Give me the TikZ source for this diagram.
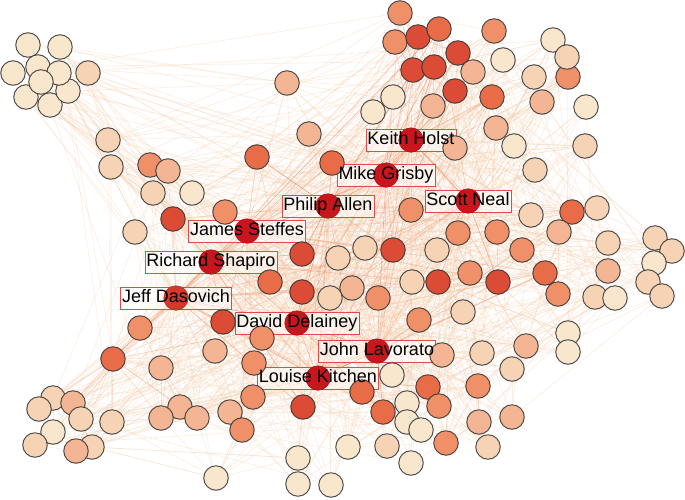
\documentclass[tikz,border=0pt]{standalone}
\usepackage{fontspec}
\setmainfont{Liberation Sans}
\pgfdeclarelayer{bg}
\pgfdeclarelayer{boxl}
\pgfdeclarelayer{fg}
\pgfsetlayers{bg,boxl,main,fg}
\definecolor{lv0}{HTML}{F8E6CD}
\definecolor{lv1}{HTML}{F6D3B4}
\definecolor{lv2}{HTML}{F3B593}
\definecolor{lv3}{HTML}{EF9068}
\definecolor{lv4}{HTML}{E76C47}
\definecolor{lv5}{HTML}{DC4B35}
\definecolor{hubc}{HTML}{C8161C}
\definecolor{hubj}{HTML}{D53A28}
\definecolor{edgec}{HTML}{F4CEAE}
\definecolor{redgec}{HTML}{E8673F}
\definecolor{medgec}{HTML}{EE9A72}
\definecolor{boxc}{HTML}{E04A4A}
\makeatletter
\newcommand\mydist[2]{%
  \pgfpointdiff{\pgfpointanchor{#1}{center}}{\pgfpointanchor{#2}{center}}%
  \edef\mytmpx{\the\pgf@x}\edef\mytmpy{\the\pgf@y}%
  \pgfmathparse{veclen(\mytmpx,\mytmpy)}%
  \global\let\mydistval\pgfmathresult}
\makeatother
\tikzset{
  vert/.style={circle, draw=black!80, line width=1pt, draw opacity=.85, minimum size=24.5pt, inner sep=0pt},
  hub/.style={circle, draw=#1!85!black, line width=.6pt, fill=#1, minimum size=24.5pt, inner sep=0pt},
  edge/.style={draw=edgec, opacity=.32, line width=.7pt},
  redge/.style={draw=redgec, opacity=.22, line width=.7pt},
  medge/.style={draw=medgec, opacity=.3, line width=.7pt},
  lbox/.style={draw=boxc, line width=.9pt, fill=white, fill opacity=.55, text opacity=0,
    font=\fontsize{18}{20}\selectfont, inner xsep=1.5pt, inner ysep=2.5pt, text height=13pt, text depth=4pt},
  ltext/.style={font=\fontsize{18}{20}\selectfont, inner xsep=1.5pt, inner ysep=2.5pt, text height=13pt, text depth=4pt, text=black}
}
\def\nodelist{1/28/45/0, 2/60/47/0, 3/13/73/0, 4/38/67/0, 8/26/97/0, 10/50/105/0, 9/68/91/0, 5/59/73/0, 7/41/82/0, 6/88/73/1,
11/108/140/1, 12/111/167/1, 13/150/165/3, 14/168/171/2, 15/153/193/1, 16/192/193/0, 17/225/212/3, 18/173/219/5, 19/135/232/1,
20/287/83/2, 21/309/134/2, 22/257/157/4, 23/332/163/4,
24/400/13/3, 25/395/42/3, 26/418/37/5, 27/439/29/4, 28/458/53/5, 29/413/70/5, 30/434/67/5, 31/455/91/5, 32/393/97/0, 33/373/112/0, 34/433/106/2, 35/455/148/2,
36/494/31/3, 37/553/40/0, 39/568/77/3, 38/567/57/1, 40/534/77/1, 41/503/60/0, 42/473/72/2, 43/492/97/4, 44/542/102/2, 45/586/107/0, 46/496/128/2, 47/514/146/0, 48/585/146/1, 49/535/170/1,
50/411/210/3, 51/302/254/5, 52/338/258/1, 53/365/248/1, 54/393/250/5, 55/437/250/1, 56/458/233/3, 57/270/282/4, 58/302/292/5, 59/352/288/2, 60/330/298/1, 61/378/298/3, 62/412/282/1, 63/438/282/5, 64/419/320/3, 65/223/322/5,
66/531/215/1, 67/572/212/4, 68/597/208/1, 69/497/232/3, 70/559/232/2, 71/522/250/3, 72/470/273/3, 73/498/282/5, 74/545/273/4, 75/558/294/3, 76/463/312/1, 77/568/333/0, 78/568/352/0,
79/608/243/1, 80/655/238/1, 81/672/251/1, 82/654/263/0, 83/608/271/2, 84/648/282/1, 85/595/297/1, 86/615/298/0, 87/662/296/1,
88/526/346/2, 89/482/353/1, 90/512/369/1, 91/478/386/3, 92/479/422/2, 93/512/417/2, 94/488/447/1,
95/262/338/3, 96/254/363/3, 97/442/355/2, 98/392/375/0, 99/253/397/3, 100/362/392/4, 101/428/387/4, 102/303/407/5, 103/383/412/4, 104/407/403/0, 105/439/406/3, 106/230/412/2, 107/242/430/3, 108/407/422/0, 109/421/430/0, 110/446/443/3, 111/348/447/0, 112/387/446/1, 113/298/458/0, 114/411/463/0, 115/298/484/0, 116/331/485/0,
117/140/328/3, 118/113/359/4, 119/161/368/2, 120/215/351/2, 121/53/398/1, 122/73/403/2, 123/39/409/1, 124/81/419/1, 125/112/422/1, 126/180/407/2, 127/161/418/2, 128/197/418/2, 129/53/432/0, 130/35/445/1, 131/92/447/1, 132/76/451/2, 133/216/478/0}
\def\hublist{134/411/140/hubc, 135/386/175/hubc, 136/328/206/hubc, 137/468/201/hubc, 138/247/231/hubc, 139/211/262/hubc, 140/176/298/hubj, 141/297/323/hubc, 142/377/351/hubc, 143/318/378/hubc}
\begin{document}
\begin{tikzpicture}[x=1pt, y=-1pt]
\useasboundingbox (0,0) rectangle (685,499);
% vertices
\foreach \i/\x/\y/\l in \nodelist {
  \node[vert, fill=lv\l] (n\i) at (\x,\y) {};
}
\foreach \i/\x/\y/\c in \hublist {
  \node[hub=\c] (n\i) at (\x,\y) {};
}
% labels
\foreach \i/\t in {134/Keith Holst, 135/Mike Grisby, 136/Philip Allen, 137/Scott Neal, 138/James Steffes, 139/Richard Shapiro, 140/Jeff Dasovich, 141/David Delainey, 142/John Lavorato, 143/Louise Kitchen} {
  \begin{pgfonlayer}{boxl}
    \node[lbox] (b\i) at (n\i) {\t};
  \end{pgfonlayer}
  \begin{pgfonlayer}{fg}
    \node[ltext] (t\i) at (n\i) {\t};
  \end{pgfonlayer}
}
% connectors
\begin{pgfonlayer}{bg}
\pgfmathsetseed{4242}
\foreach \i/\x/\y/\l in \nodelist {
  \pgfmathtruncatemacro\kk{6+4*\l}
  \foreach \t in {1,...,\kk} {
    \pgfmathrandominteger{\j}{1}{190}
    \pgfmathtruncatemacro\jj{\j>143 ? 134+mod(\j,10) : \j}
    \ifnum\jj=\i\else
      \mydist{n\i}{n\jj}
      \pgfmathtruncatemacro\flag{rnd<exp(-(\mydistval/320)^2) ? 1 : 0}
      \ifnum\flag=1 \draw[edge] (n\i) -- (n\jj); \fi
    \fi
  }
}
\foreach \i in {134,...,143} {
  \foreach \t in {1,...,70} {
    \pgfmathrandominteger{\j}{1}{143}
    \ifnum\j=\i\else
      \mydist{n\i}{n\j}
      \pgfmathtruncatemacro\flag{rnd<exp(-(\mydistval/380)^2) ? 1 : 0}
      \ifnum\flag=1 \draw[edge] (n\i) -- (n\j); \fi
    \fi
  }
  \foreach \d in {18,22,23,26,27,28,29,30,31,43,51,54,57,58,63,65,67,73,74,100,101,102,103,118,134,135,136,137,138,139,140,141,142,143} {
    \pgfmathtruncatemacro\flag{rnd<0.3 ? 1 : 0}
    \ifnum\flag=1 \ifnum\d=\i\else \draw[redge] (n\i) -- (n\d); \fi\fi
  }
}
\foreach \a/\b in {24/26, 24/25, 25/26, 26/27, 26/29, 27/28, 28/30, 29/30, 30/31, 29/134, 30/134, 31/134, 26/135, 28/135, 29/135, 31/135, 27/134, 25/29, 28/31, 34/134, 34/30, 26/30, 29/31, 24/29, 35/134, 134/135, 135/136, 23/135, 136/138, 138/139, 139/140, 140/141, 141/142, 142/143, 141/143, 136/141, 135/142, 137/135, 137/134, 51/136, 58/141, 57/139, 65/140, 54/135, 63/137, 73/137, 102/143, 100/142, 103/142, 101/142, 118/140, 117/140, 18/139, 22/138, 22/136, 17/138, 43/134, 28/43, 25/134, 24/135, 27/30, 26/28} {
  \draw[redge] (n\a) -- (n\b);
}
\foreach \a/\b in {118/121, 118/122, 118/123, 118/124, 118/125, 118/127, 118/132, 118/119, 117/118, 119/126, 119/127, 119/128, 122/132, 122/124, 121/123, 124/131, 125/132, 125/127, 118/126, 118/128, 117/119, 113/102, 91/110, 91/92, 92/110, 88/91, 74/75, 71/73, 69/73, 67/74} {
  \draw[medge] (n\a) -- (n\b);
}
\foreach \a/\b in {1/2, 1/4, 2/5, 2/6, 4/5, 5/6, 6/9, 7/9, 5/9, 3/4, 3/8, 7/8, 8/10, 9/10, 6/11, 9/11, 10/11, 6/12, 9/12, 10/12, 133/125, 133/131, 133/127, 133/113, 93/87, 121/129, 130/132, 123/130, 129/131, 6/136, 6/135, 6/137, 9/138, 10/139, 5/21, 1/20, 2/20} {
  \draw[edge] (n\a) -- (n\b);
}
\end{pgfonlayer}
\end{tikzpicture}
\end{document}
